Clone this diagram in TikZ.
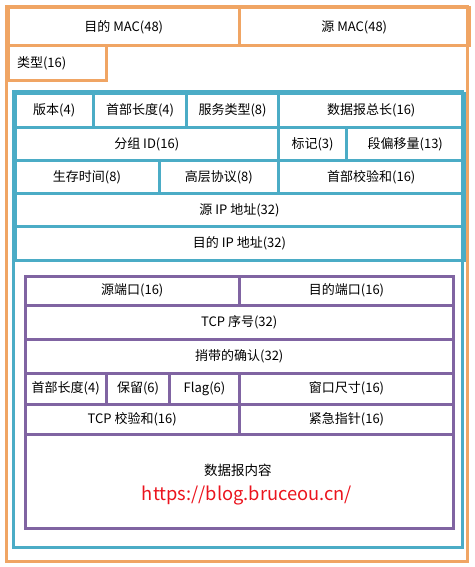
\documentclass[tikz,border=0pt]{standalone}
\usepackage{fontspec}
\setmainfont{Noto Sans CJK SC}
\definecolor{ethorange}{RGB}{240,165,100}
\definecolor{ipblue}{RGB}{75,172,198}
\definecolor{tcppurple}{RGB}{128,100,162}
\definecolor{urlred}{RGB}{235,20,30}
\begin{document}
\begin{tikzpicture}[x=1pt,y=-1pt,
	cell/.style={draw,line width=3pt,anchor=north west,inner sep=0pt,font=\fontsize{13}{15}\selectfont},
	eth/.style={cell,draw=ethorange},
	ip/.style={cell,draw=ipblue},
	tcp/.style={cell,draw=tcppurple}]
	   \useasboundingbox (0,0) rectangle (474,567);
	   % frames
	   \draw[ethorange,line width=3pt] (6.5,6.5) rectangle (467.5,561.5);
	   \draw[ipblue,line width=3pt] (13.5,92) rectangle (462.5,547.5);
	   % ethernet header
	   \node [eth,minimum width=231.5pt,minimum height=38pt] (dmac) at (6.5,6.5) {目的 MAC(48)};
	   \node [eth,minimum width=229.5pt,minimum height=38pt] (smac) at (238,6.5) {源 MAC(48)};
	   \node [eth,minimum height=35pt,inner xsep=9pt,text width=80.5pt,align=left] (ethtype) at (6.5,44.5) {类型(16)};
	   % ip header
	   \node [ip,minimum width=78.5pt,minimum height=34pt] (ipver) at (13.5,92) {版本(4)};
	   \node [ip,minimum width=93pt,minimum height=34pt] (iphlen) at (92,92) {首部长度(4)};
	   \node [ip,minimum width=92pt,minimum height=34pt] (iptos) at (185,92) {服务类型(8)};
	   \node [ip,minimum width=185.5pt,minimum height=34pt] (iptlen) at (277,92) {数据报总长(16)};
	   \node [ip,minimum width=263.5pt,minimum height=33pt] (ipid) at (13.5,126) {分组 ID(16)};
	   \node [ip,minimum width=68pt,minimum height=33pt] (ipflags) at (277,126) {标记(3)};
	   \node [ip,minimum width=117.5pt,minimum height=33pt] (ipfrag) at (345,126) {段偏移量(13)};
	   \node [ip,minimum width=144pt,minimum height=33pt] (ipttl) at (13.5,159) {生存时间(8)};
	   \node [ip,minimum width=119.5pt,minimum height=33pt] (ipproto) at (157.5,159) {高层协议(8)};
	   \node [ip,minimum width=185.5pt,minimum height=33pt] (ipsum) at (277,159) {首部校验和(16)};
	   \node [ip,minimum width=449pt,minimum height=33pt] (ipsrc) at (13.5,192) {源 IP 地址(32)};
	   \node [ip,minimum width=449pt,minimum height=33.5pt] (ipdst) at (13.5,225) {目的 IP 地址(32)};
	   % tcp header
	   \node [tcp,minimum width=214.5pt,minimum height=29.5pt] (tcpsport) at (23.5,274.5) {源端口(16)};
	   \node [tcp,minimum width=214pt,minimum height=29.5pt] (tcpdport) at (238,274.5) {目的端口(16)};
	   \node [tcp,minimum width=428.5pt,minimum height=34pt] (tcpseq) at (23.5,304) {TCP 序号(32)};
	   \node [tcp,minimum width=428.5pt,minimum height=33.5pt] (tcpack) at (23.5,338) {捎带的确认(32)};
	   \node [tcp,minimum width=81.5pt,minimum height=31pt] (tcpoff) at (23.5,371.5) {首部长度(4)};
	   \node [tcp,minimum width=63pt,minimum height=31pt] (tcprsv) at (105,371.5) {保留(6)};
	   \node [tcp,minimum width=70pt,minimum height=31pt] (tcpflag) at (168,371.5) {Flag(6)};
	   \node [tcp,minimum width=214pt,minimum height=31pt] (tcpwin) at (238,371.5) {窗口尺寸(16)};
	   \node [tcp,minimum width=214.5pt,minimum height=30.5pt] (tcpsum) at (23.5,402.5) {TCP 校验和(16)};
	   \node [tcp,minimum width=214pt,minimum height=30.5pt] (tcpurg) at (238,402.5) {紧急指针(16)};
	   \node [tcp,minimum width=428.5pt,minimum height=93.5pt] (tcpdata) at (23.5,433) {};
	   \node [font=\fontsize{13.5}{15}\selectfont] (datatext) at (237.75,470) {数据报内容};
	   \node [font=\fontsize{18.3}{20}\selectfont,text=urlred] (dataurl) at (247,495) {https://blog.bruceou.cn/};
	\end{tikzpicture}
\end{document}
